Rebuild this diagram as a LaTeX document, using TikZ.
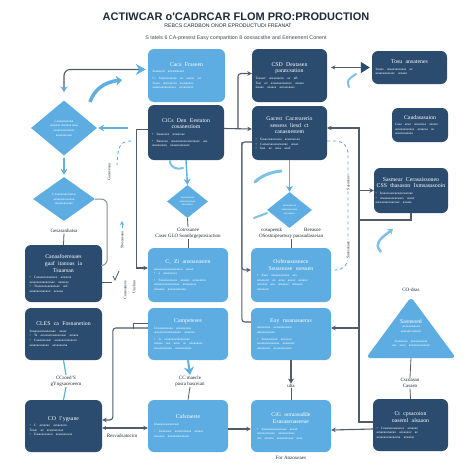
\documentclass[tikz,border=0pt]{standalone}
\usepackage{xcolor}
\usepackage{fontspec}
\setmainfont{Liberation Serif}
\newfontfamily\headfont{Liberation Sans}
\usetikzlibrary{shapes.geometric,arrows.meta,calc}

\definecolor{boxlight}{HTML}{5DADE2}
\definecolor{boxdark}{HTML}{2B4C6F}
\definecolor{wiregray}{HTML}{4F5D6B}
\definecolor{flowblue}{HTML}{5FB0E0}
\definecolor{inktext}{HTML}{1E2B38}

\newcommand{\ttlfont}{\fontsize{5.8}{6.8}\selectfont}
\newcommand{\bdyfont}{\fontsize{3.4}{4.6}\selectfont}
\newcommand{\lblfont}{\fontsize{5}{6}\selectfont}
\newcommand{\boxtxt}[2]{{\centering\ttlfont #1\par}\vspace{2pt}{\bdyfont #2\par}}

\begin{document}
\begin{tikzpicture}[x=1pt,y=-1pt]
        % Define styles
        \tikzset{
            lightbox/.style={rectangle, rounded corners=6pt, fill=boxlight, text=white, minimum width=80pt, minimum height=54pt, text width=68pt, align=left, inner sep=3pt},
            darkbox/.style={lightbox, fill=boxdark, minimum width=77pt},
            decision/.style={diamond, aspect=1.3, fill=boxlight, text=white, inner sep=0pt, align=center, font=\bdyfont},
            note/.style={text=inktext, font=\lblfont, align=center, inner sep=0.5pt},
            sidenote/.style={note, font=\fontsize{4}{5}\selectfont, rotate=90},
            wire/.style={draw=wiregray, line width=1.1pt},
            arrow/.style={wire, -{Stealth[length=4.5pt,width=4.5pt]}},
            bluearrow/.style={draw=flowblue, line width=1.4pt, -{Stealth[length=6pt,width=7pt]}},
            swoosh/.style={draw=flowblue!80, line width=2.5pt, line cap=round}
        }
        \useasboundingbox (0,0) rectangle (474,474);
        \fill[white] (0,0) rectangle (474,474);

        % Heading
        \node[text=inktext, font=\headfont\bfseries\fontsize{11}{12}\selectfont] (title) at (236,17) {ACTIWCAR o'CADRCAR FLOM PRO:PRODUCTION};
        \node[text=inktext, font=\headfont\fontsize{5.2}{6}\selectfont] (subtitle) at (228,26) {REBCS CARDBON ONOR EPRODUCTUDI FREANAT};
        \node[text=inktext!85, font=\headfont\fontsize{5.3}{6}\selectfont] (tagline) at (236,38) {S tatels 6 CA-prevest Easy comparttion 8 oossacsthe and Eeneenent Conent};

        % Nodes, top rows
        \node[lightbox, minimum width=77pt, minimum height=53pt] (A) at (186.5,75.5) {\boxtxt{Caca Fraseen}{Ioasaoed aesaoearaea\\[2pt] C: Iosasosaaoae ao aaeao ao\\ Iosaa aoesaoesa aoasaaeoe\\ aoaeoaeeaoaeaoa aoeaoeaoe}};
        \node[darkbox, minimum width=75pt, minimum height=53pt] (B) at (289.5,75.5) {\boxtxt{CSD Deatasen\\ paratcsation}{Teasaer aesaesaeoe ae aB\\ Tsai ao aesaesaoesaeao aesaes\\ Iesaae aeaaea aeoaesaaes}};
        \node[darkbox, minimum width=75pt, minimum height=33pt] (C) at (409.5,67.5) {\boxtxt{Tosu ansatenes}{Iesaes aesaesaosaeas ae\\ aesaesaeaoaes aesaea}};
        \node[decision, minimum width=66pt, minimum height=55pt] (H1) at (64,128) {Csasaenoeasa\\ aesaesa aesaesa aesa\\ aesaesaeaoesae\\ aesaeaoesae};
        \node[darkbox, minimum width=76pt, minimum height=55pt] (D) at (186,132.5) {\boxtxt{CiCs Den Eestaton\\ cosanestiom}{• Iasasesoe aosaosae\\[2pt] • Rasaoea aesaosaeaoesaeoasae aes\\ aesaeoaesa aesaeoaesaeae}};
        \node[darkbox, minimum width=75pt, minimum height=54pt] (E) at (289.5,133) {\boxtxt{Gacest Cacrearerio\\ sessess liesd ct\\ canasnestem}{• Easasoeaoesaea aesaeaosea\\ • Caesaesaoaeaesaoae aesae\\ • Isae ae aesa aeaC}};
        \node[darkbox, minimum width=56pt, minimum height=34pt, text width=50pt] (F) at (420,125) {\boxtxt{Caudasasaion}{Casa aesa aesaoesa aesaes\\ aesaeaesaoaes aesaesa ae\\ aesaoesaeaea}};
        \node[darkbox, minimum width=74pt, minimum height=45pt, text width=71pt, inner sep=1.5pt] (G) at (411,190.5) {\boxtxt{Sasmear Cerasaissoneo\\ CSS thasason Ixmsasasooin}{• Iesaoesaoeaesaoesaeoae\\ • aesaesaoesaesaeo aesae\\ aoesaesaoesaeoae aesaes}};

        % Decisions
        \node[decision, minimum width=62pt, minimum height=44pt] (H2) at (64,199) {Cesaeaesaeoaesa\\ aesaesaoesaeoa\\ aesaesaoesae};
        \node[decision, minimum width=41pt, minimum height=33pt, font=\fontsize{2.8}{3.8}\selectfont] (H3) at (187.5,201.5) {aesaesaoesa\\ aesaesaoesaea\\ aesaesaeo};
        \node[decision, minimum width=45pt, minimum height=36pt, font=\fontsize{2.8}{3.8}\selectfont] (H4) at (289.5,210) {aesaesaoesa\\ aesaesaoesaea\\ aesaesaeo};
        \node[note] (lH2) at (64,231) {Gesasanhatsa};
        \node[note] (lH3) at (188,233) {Cotrssanee\\ Caser GLO Sonnbrgeprosiaction};
        \node[note] (lH4) at (291,233) {cosupeenk\hspace{22pt}Beeasoe\\ OSostnipearteay parasadasseian};

        % Nodes, lower rows
        \node[darkbox, minimum width=77pt, minimum height=57pt] (I) at (63.5,273.5) {\boxtxt{Canaafoereaaes\\ gaaf itanoas ia\\ Tsuarsan}{• Caesaeaoesaeaoe aesaeoa\\ aesaeaoesaeaoesae aesaeao\\ • Tesaeaoesaeaoesae aeC\\ aesaeaoesaeaoe aesaoa}};
        \node[lightbox] (J) at (188,275) {\boxtxt{C, Zi ansnanasten}{aesaeaoesaeaoesaeoa aesae\\ • a aesaeaosa\\[2pt] • Easaeaoesaea aesaea aesaeaoes\\ aesaeaoesaeaoesae aesaeaoes\\ aesaeao aesaeaoesaea}};
        \node[lightbox] (K) at (291,275) {\boxtxt{Oobtnasosnece\\ Ssoasnose ssesaen}{• Easa aesaeaoesaea aes\\ aesaeaoe ae aesa aesae aesaes\\ aesaesa aes aesaeao aesaeao\\ aesaeaoe}};
        \node[darkbox, minimum height=52pt] (L) at (63.5,334) {\boxtxt{CLES ca Fosnanetion}{Ieasaesaoesaeaosae aesae\\ • Ta aesaeaoesaeaoesae aesaea\\ • Casaeaoesae aesaeaoesaeaoes\\ aesaeaoesaeao aesaeaoesa}};
        \node[lightbox, minimum height=52pt] (M) at (188,334) {\boxtxt{Campeteses}{Uesaeaoesaea aesaeaoesa\\ aesaeaoesaeaoesaea aesaeao\\[2pt] • Ia aesaeaoesaeaoesae\\ aesaea aes aesa ae aesaeaoes\\ aesaeaoesaea aesaeaoesae}};
        \node[lightbox, minimum height=52pt] (N) at (291,334) {\boxtxt{Eoy rasanasaeras}{aesaeaoes aesaeaoesaea\\ aesaeaoesaea\\[2pt] • Iesaeaoesae aesaeao\\ aesaeaoesaeaoes aesaeaoe\\ aesaeaoes aesaeaoesaea}};
        \fill[boxlight, rounded corners=4pt] (411,297) -- (456,358) -- (366,358) -- cycle;
        \node[text=white, text width=60pt, minimum height=50pt, inner sep=0pt, align=center] (T) at (411,333) {{\ttlfont Sasnsoed\par}{\bdyfont aoasasasasea\\ asasaaisoaneee\\[5pt] Iesaeaoes aesaeaoesae\\ aes aesa aesaeaoesaeaoe\par}};
        \node[note] (lT) at (411,290) {CO-dsas};
        \node[darkbox, minimum height=52pt] (O) at (63.5,426) {\boxtxt{CO l'ygsane}{• C aesaeao aesaeaoes\\ Tesae ae aesaeaoesae\\ • Easaeaoesaea aesaeaoesae}};
        \node[lightbox, minimum height=52pt] (P) at (188,426) {\boxtxt{Cafsraeste}{Iesaeaoesaeaoesae\\[3pt] • Iesaeaoes aesaeaoesae aesaes\\ aesaeao aesaeaoesaeaoe}};
        \node[lightbox, minimum height=52pt] (Q) at (291,426) {\boxtxt{CiG aoraasadile\\ Esasaseoaseeae}{• Iesaeaoesaeaoesae aesae\\ aesaeaoesaea aesaeaoesae\\ aes aesaea aesaeaoesae aesa}};
        \node[darkbox, minimum width=75pt, minimum height=52pt] (R) at (410.5,425) {\boxtxt{Ct cpsacoion\\ oaseml alsaaon}{• Cesaeaoesaeaoes aesaeao\\ aesaeaoesaeao aesaeaoe ae\\ aesaeaoesaeaoesa aesaeao}};
        \node[note] (lO) at (66,381) {CCroed'S\\ gYngsaceoeem};
        \node[note] (lP) at (190,381) {CC maecle\\ pasra basceian};
        \node[note] (lQ) at (291,386) {uba};
        \node[note] (lR) at (410,383) {Cscdasao\\ Casaen};
        \node[note] (lOP) at (122,436) {Resvadsatocim};
        \node[note] (lQb) at (291,458) {For Anzoxeaes};
        \node[sidenote] (s1) at (109,172) {Gasasesaa};
        \node[sidenote] (s2) at (122,240) {Stossasaaa};
        \node[sidenote] (s3) at (125,290) {Cosasaneos};
        \node[sidenote] (s4) at (134,287) {Uusbuo};
        \coordinate (tktop) at (359,128);

        % Arrows
        \draw[wire, rounded corners=6pt, {Stealth[length=6pt,width=7pt,color=flowblue]}-{Stealth[length=10pt,width=11pt,color=flowblue]}, shorten <=8pt, shorten >=2pt] (H1.north) |- ([yshift=6]A.west);
        \draw[bluearrow, shorten <=20pt, shorten >=1pt] (H1.east -| D.west) -- (H1.east);
        \draw[bluearrow, shorten <=2pt, shorten >=2pt] (H1.south) -- (H2.north);
        \draw[arrow] ([yshift=3]D.west) -- ++(-11,0) |- ([yshift=7]J.west);
        \draw[arrow] ([yshift=4]D.east) -- ([yshift=4]E.west);
        \draw[arrow, rounded corners=3pt] ($([yshift=4]D.east)!0.5!([yshift=4]E.west)$) |- ([yshift=2]B.west);
        \draw[arrow, rounded corners=3pt] ([yshift=-9]E.west) -- ++(-10,0) |- ([yshift=5]K.west);
        \draw[wire, rounded corners=3pt] ([yshift=12]N.west) -| ($([yshift=-9]E.west)+(-10,0)$);
        \draw[wire, {Stealth[length=4pt,width=4pt]}-{Triangle[length=9pt,width=11pt,color=boxdark]}, shorten <=4pt, shorten >=2pt] (B.east |- C.west) -- (C.west);
        \draw[bluearrow] (D.south) -- (H3.north);
        \draw[bluearrow] (E.south) -- (H4.north);
        \draw[wire, line width=0.8pt] (H3.south) -- (lH3.north);
        \draw[wire, line width=0.8pt] (lH3.south) -- (J.north);
        \draw[wire, line width=0.8pt] (lH4.south) -- (K.north);
        \draw[wire, line width=0.8pt] (lH2.south) -- (I.north);
        \draw[draw=wiregray!70, line width=1pt, rounded corners=6pt] (H2.east) -- ++(12,0) |- ([yshift=8]I.east);
        \draw[arrow] ([yshift=3]R.west) -| (tktop) -- ([yshift=5]E.east);
        \draw[arrow] (tktop |- G.west) -- (G.west);
        \draw[wire] (G.south) |- (tktop |- 0,220);
        \draw[arrow] (tktop |- 0,328) -- (N.east |- 0,328);
        \draw[arrow] ([yshift=-4]R.west) -- ([yshift=-4]Q.east);
        \draw[arrow] ([yshift=-3]P.east) -- ([yshift=-3]Q.west);
        \draw[wire, {Stealth[length=4pt,width=4pt]}-{Stealth[length=4.5pt,width=4.5pt]}] ([yshift=-2]O.east) -- ([yshift=-2]P.west);
        \draw[arrow, rounded corners=3pt] ([yshift=6]M.west) -- ++(-35,0) |- ([yshift=6]O.east);
        \draw[wire, line width=0.9pt] ([yshift=11]M.west) -- ++(-14,0) -- ++(0,6);
        \draw[wire, line width=0.9pt] ([yshift=-9]I.east) -- ++(10,0);
        \draw[draw=flowblue, line width=1.2pt] (L.south) -- (lO.north);
        \draw[draw=flowblue, line width=1.2pt] (lO.south) -- (O.north);
        \draw[draw=flowblue, line width=2pt, -{Stealth[length=8pt,width=10pt]}] (M.south) -- (lP.north);
        \draw[wire, line width=0.8pt] (lP.south) -- (P.north);
        \draw[wire, -{Stealth[length=5pt,width=6pt]}] (N.south) -- (lQ.north);
        \draw[wire, line width=0.8pt] (lQ.south) -- (Q.north);
        \draw[wire, line width=0.8pt] (T.south) -- (lR.north);
        \draw[wire, line width=0.8pt] (lR.south) -- (R.north);
        \draw[draw=flowblue, dashed, line width=0.9pt, rounded corners=12pt] ([yshift=-8]E.east) -| (348,270) -- ([yshift=5]K.east);
        \node[sidenote, fill=white, inner sep=1pt] (s5) at (348,183) {Sasaseas};
        \node[sidenote, fill=white, inner sep=1pt] (s6) at (348,250) {Sasesseaee};

        % Swooshes
        \draw[flowblue, line width=3.5pt, -{Stealth[length=6pt,width=10pt]}] (90,102) .. controls (94,90) and (104,82) .. (122,80);
        \draw[swoosh, line width=2pt] (349,87) .. controls (347,80) .. (356,74);
        \draw[swoosh, line width=2pt] (170,161) .. controls (170,168) and (178,170) .. (183,168);
        \draw[swoosh, line width=3pt] (255,182) .. controls (262,175) and (272,172) .. (281,171);
        \draw[swoosh, line width=2pt] (254,218) -- (267,213);
        \draw[flowblue!80, line width=2.5pt, -{Stealth[length=5pt,width=7pt]}] (381,252) .. controls (372,243) and (384,236) .. (393,229);
        \draw[flowblue, dashed, line width=0.9pt] (131,141) .. controls (118,141) and (118,150) .. (117,165);
        \draw[flowblue, line width=1pt, -{Stealth[length=4pt,width=4pt]}] (122,228) -- (122,221);
        \draw[wiregray, line width=0.8pt] (113,276) -- (115,280) -- (119,271);
\end{tikzpicture}
\end{document}
